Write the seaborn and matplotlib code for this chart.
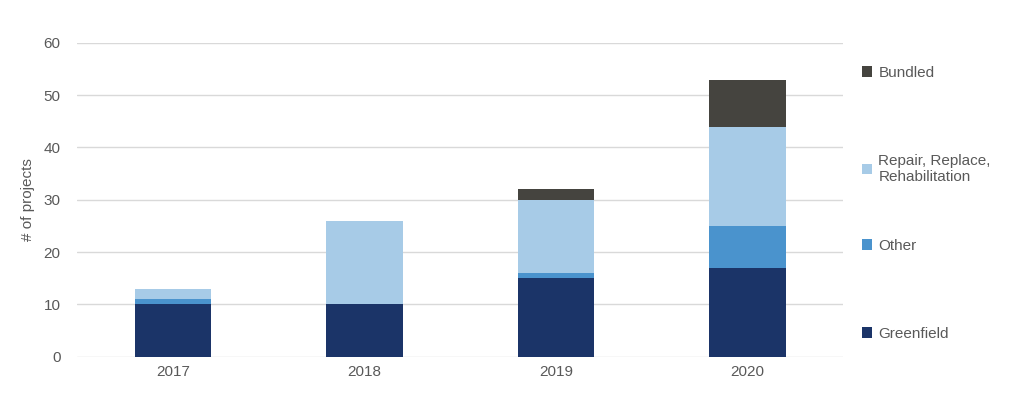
import numpy as np
import pandas as pd
import matplotlib
matplotlib.use("Agg")
import matplotlib.pyplot as plt
import seaborn as sns
from matplotlib.patches import Patch

years = ["2017", "2018", "2019", "2020"]
greenfield = [10, 10, 15, 17]
other = [1, 0, 1, 8]
repair = [2, 16, 14, 19]
bundled = [0, 0, 2, 9]

series = [
    ("Greenfield", greenfield, "#1B3468"),
    ("Other", other, "#4A93CD"),
    ("Repair, Replace,\nRehabilitation", repair, "#A7CBE7"),
    ("Bundled", bundled, "#45443F"),
]

sns.set_theme(style="white")
plt.rcParams["font.family"] = ["Liberation Sans", "DejaVu Sans"]

fig = plt.figure(figsize=(10.24, 4.17), dpi=100)
ax = fig.add_axes([0.0755, 0.145, 0.748, 0.752])

bottom = np.zeros(len(years))
for name, vals, col in series:
    df = pd.DataFrame({"year": years, "value": vals})
    sns.barplot(data=df, x="year", y="value", bottom=bottom, color=col,
                width=0.4, ax=ax, saturation=1, edgecolor="none", zorder=3)
    bottom = bottom + np.array(vals)

ax.set_ylim(0, 60)
ax.set_yticks(range(0, 61, 10))
ax.set_xlim(-0.5, 3.5)
ax.yaxis.grid(True, color="#D9D9D9", linewidth=1, zorder=0)
ax.set_axisbelow(True)
for s in ax.spines.values():
    s.set_visible(False)
ax.tick_params(axis="both", colors="#595959", labelsize=11, length=0)
ax.tick_params(axis="y", pad=12)
ax.tick_params(axis="x", pad=6)
ax.set_xlabel("")
ax.set_ylabel("# of projects", color="#595959", fontsize=11, labelpad=6)

# legend (reversed order, spread vertically)
ypos = [0.825, 0.595, 0.41, 0.20]
for (name, vals, col), y in zip(reversed(series), ypos):
    leg = fig.legend(handles=[Patch(facecolor=col, edgecolor="none")], labels=[name],
                     loc="center left", bbox_to_anchor=(0.828, y), frameon=False,
                     handlelength=0.7, handleheight=0.7, handletextpad=0.4,
                     fontsize=11, labelcolor="#595959")

fig.savefig("out.png", dpi=100)
